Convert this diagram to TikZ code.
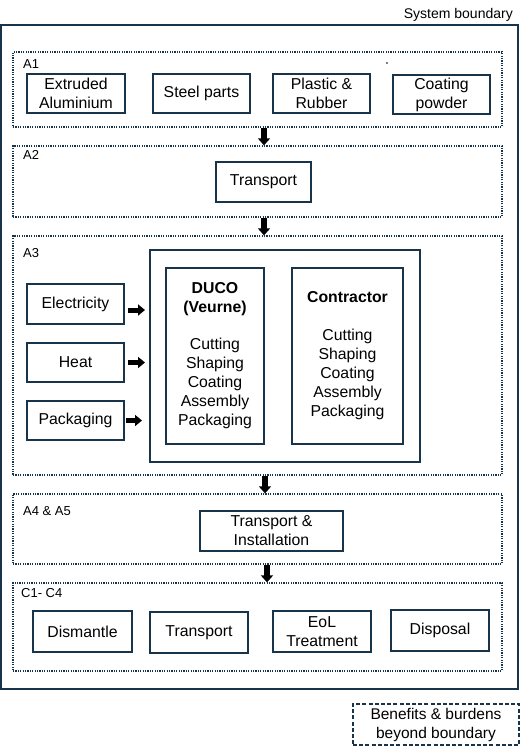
\documentclass[tikz,border=0pt]{standalone}
\usepackage{fontspec}
\setmainfont{Liberation Sans}
\usepackage{tikz}
\usetikzlibrary{
  arrows.meta,
  positioning,
  calc
}
\definecolor{framenavy}{HTML}{17344A}
\tikzset{
  sysframe/.style={draw=framenavy, line width=2pt, inner sep=0pt},
  stageframe/.style={draw=framenavy, line width=1.3pt,
    dash pattern=on 1.2pt off 1.2pt, inner sep=0pt},
  procbox/.style={draw=framenavy, line width=1.8pt, inner sep=0pt,
    align=center, font=\fontsize{15.8}{19}\selectfont},
  beyondbox/.style={draw=framenavy, line width=1.6pt,
    dash pattern=on 4pt off 2.2pt, inner sep=0pt,
    align=center, font=\fontsize{15.5}{19}\selectfont},
  stagelbl/.style={anchor=west, inner sep=0pt,
    font=\fontsize{13}{15}\selectfont},
  blockarr/.style={-{Triangle[width=12pt,length=7pt]}, line width=5.5pt},
  sidearr/.style={-{Triangle[width=11pt,length=7pt]}, line width=5pt,
    shorten <=3pt, shorten >=4pt},
}

\begin{document}
\begin{tikzpicture}[x=1pt, y=-1pt]
  \useasboundingbox (0,0) rectangle (524,753);

  % System boundary
  \node[sysframe, minimum width=517pt, minimum height=664pt] (sys) at (259.5,357) {};
  \node[anchor=east, inner sep=0pt, font=\fontsize{14}{16}\selectfont]
    (syslbl) at (513,15) {System boundary};

  % Stage frames
  \node[stageframe, minimum width=489pt, minimum height=75pt] (a1) at (257.5,89.5) {};
  \node[stageframe, minimum width=489pt, minimum height=71pt] (a2) at (257.5,181.5) {};
  \node[stageframe, minimum width=489pt, minimum height=239pt] (a3) at (257.5,355.5) {};
  \node[stageframe, minimum width=489pt, minimum height=70pt] (a45) at (257.5,529) {};
  \node[stageframe, minimum width=489pt, minimum height=88pt] (c14) at (257.5,627) {};

  \node[stagelbl] (a1lbl) at (23,64) {A1};
  \node[stagelbl] (a2lbl) at (23,155) {A2};
  \node[stagelbl] (a3lbl) at (23,253) {A3};
  \node[stagelbl] (a45lbl) at (23,511) {A4 \& A5};
  \node[stagelbl] (c14lbl) at (21,593) {C1- C4};

  % A1 raw materials
  \node[procbox, minimum width=98pt, minimum height=39pt] (alu) at (76,93.5)
    {Extruded\\Aluminium};
  \node[procbox, minimum width=97pt, minimum height=39pt] (steel) at (201.5,93.5)
    {Steel parts};
  \node[procbox, minimum width=97pt, minimum height=39pt] (plastic) at (321.5,93.5)
    {Plastic \&\\Rubber};
  \node[procbox, minimum width=97pt, minimum height=39pt] (powder) at (441.5,94.5)
    {Coating\\powder};
  \fill (387,63) circle (0.9);

  % A2
  \node[procbox, minimum width=95pt, minimum height=40pt] (trans) at (263.5,182)
    {Transport};

  % A3 manufacturing
  \node[procbox, line width=2pt, minimum width=270pt, minimum height=212pt] (mfg) at (285,356) {};
  \node[procbox, minimum width=98pt, minimum height=176pt] (duco) at (215,356)
    {\textbf{DUCO}\\\textbf{(Veurne)}\\[18pt]Cutting\\Shaping\\Coating\\Assembly\\Packaging};
  \node[procbox, minimum width=111pt, minimum height=176pt] (contr) at (347.5,356)
    {\textbf{Contractor}\\[19pt]Cutting\\Shaping\\Coating\\Assembly\\Packaging};

  \node[procbox, minimum width=97pt, minimum height=40pt] (elec) at (75.5,304) {Electricity};
  \node[procbox, minimum width=97pt, minimum height=39pt] (heat) at (75.5,362.5) {Heat};
  \node[procbox, minimum width=97pt, minimum height=39pt] (pack) at (75.5,420.5) {Packaging};

  \draw[sidearr] ([yshift=-6pt]elec.east) -- ([yshift=-6pt]elec.east -| mfg.west);
  \draw[sidearr] (heat.east) -- (heat.east -| mfg.west);
  \draw[sidearr, shorten <=1pt, shorten >=7pt] (pack.east) -- (pack.east -| mfg.west);

  % A4 & A5
  \node[procbox, minimum width=143pt, minimum height=40pt] (inst) at (271.5,531)
    {Transport \&\\Installation};

  % C1 - C4
  \node[procbox, minimum width=99pt, minimum height=41pt] (dism) at (82.5,631.5) {Dismantle};
  \node[procbox, minimum width=98pt, minimum height=41pt] (transc) at (199,632.5) {Transport};
  \node[procbox, minimum width=98pt, minimum height=41pt] (eol) at (322,631.5) {EoL\\Treatment};
  \node[procbox, minimum width=98pt, minimum height=41pt] (disp) at (440,630.5) {Disposal};

  % Stage flow
  \draw[blockarr] ([xshift=6.5pt]a1.south) -- ([xshift=6.5pt]a2.north);
  \draw[blockarr] ([xshift=6.5pt]a2.south) -- ([xshift=6.5pt]a3.north);
  \draw[blockarr] ([xshift=7.5pt]a3.south) -- ([xshift=7.5pt]a45.north);
  \draw[blockarr] ([xshift=9.5pt]a45.south) -- ([xshift=9.5pt]c14.north);

  % Outside the boundary
  \node[beyondbox, minimum width=166pt, minimum height=41pt] (beyond) at (436,724.5)
    {Benefits \& burdens\\beyond boundary};
\end{tikzpicture}
\end{document}
